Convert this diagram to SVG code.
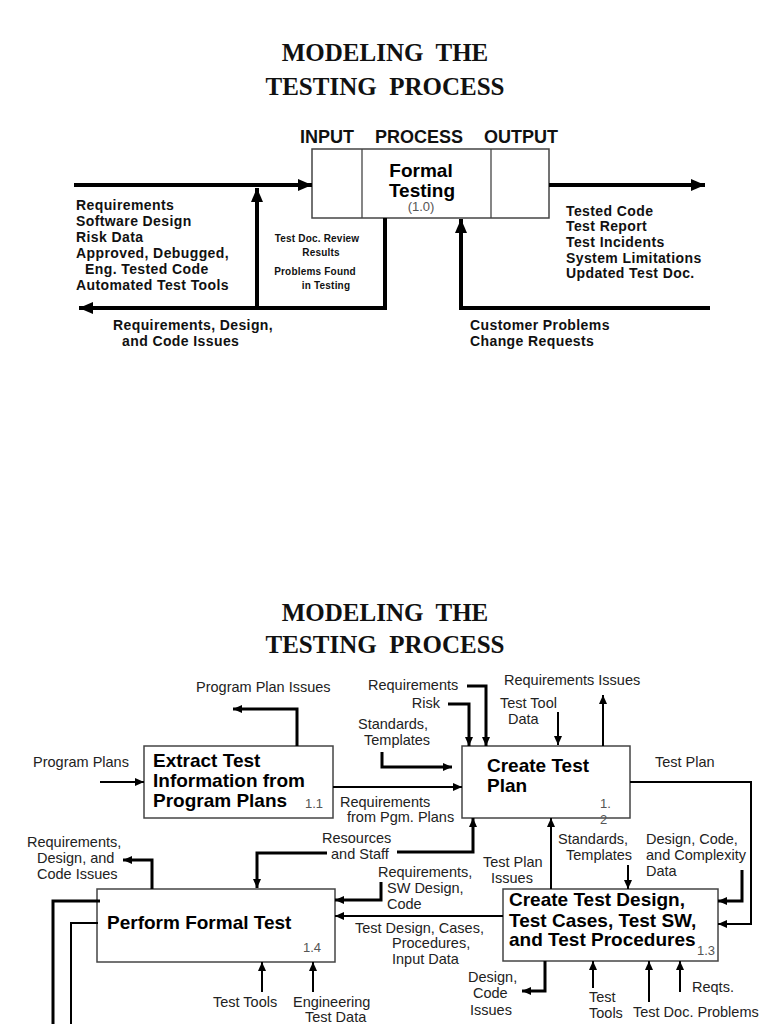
<svg xmlns="http://www.w3.org/2000/svg" width="768" height="1024" viewBox="0 0 768 1024">
<style>
.title{font-family:"Liberation Serif","Times New Roman",serif;font-weight:bold;font-size:25px;fill:#111;text-anchor:middle;white-space:pre}
.hdr{font-family:"Liberation Sans",Arial,sans-serif;font-weight:bold;font-size:18px;fill:#111}
.bl{font-family:"Liberation Sans",Arial,sans-serif;font-weight:bold;font-size:14px;letter-spacing:0.4px;fill:#111}
.sm{font-family:"Liberation Sans",Arial,sans-serif;font-weight:bold;font-size:10px;letter-spacing:0.2px;fill:#111}
.nm{font-family:"Liberation Sans",Arial,sans-serif;font-weight:bold;font-size:19px;fill:#000}
.lb{font-family:"Liberation Sans",Arial,sans-serif;font-size:14.5px;fill:#222}
.num{font-family:"Liberation Sans",Arial,sans-serif;font-size:13px;fill:#555}
.box{fill:#fff;stroke:#444;stroke-width:1.5}
.thk{fill:none;stroke:#000;stroke-width:4;stroke-linejoin:miter}
.ln{fill:none;stroke:#000;stroke-width:2}
.ln3{fill:none;stroke:#000;stroke-width:3}
</style>
<defs>
<marker id="big" markerUnits="userSpaceOnUse" markerWidth="14" markerHeight="12" refX="14" refY="6" orient="auto"><path d="M0,0 L14,6 L0,12 z" fill="#000"/></marker>
<marker id="sa" markerUnits="userSpaceOnUse" markerWidth="9" markerHeight="8" refX="9" refY="4" orient="auto"><path d="M0,0 L9,4 L0,8 z" fill="#000"/></marker>
</defs>
<rect width="768" height="1024" fill="#fff"/>

<!-- Top slide -->
<text class="title" x="385" y="61" xml:space="preserve">MODELING  THE</text>
<text class="title" x="385" y="95" xml:space="preserve">TESTING  PROCESS</text>
<text class="hdr" x="300" y="143">INPUT</text>
<text class="hdr" x="375" y="143">PROCESS</text>
<text class="hdr" x="484" y="143">OUTPUT</text>

<g id="formal-testing">
<rect class="box" x="312" y="149" width="237" height="69"/>
<line x1="362" y1="149" x2="362" y2="218" stroke="#444" stroke-width="1.3"/>
<line x1="491" y1="149" x2="491" y2="218" stroke="#444" stroke-width="1.3"/>
<text class="nm" x="421" y="177" text-anchor="middle">Formal</text>
<text class="nm" x="422" y="197" text-anchor="middle">Testing</text>
<text class="num" x="421" y="211" text-anchor="middle">(1.0)</text>
</g>

<g id="top-connectors">
<path class="thk" d="M74,185 H312" marker-end="url(#big)"/>
<path class="thk" d="M257,308 V188" marker-end="url(#big)"/>
<path class="thk" d="M385,218 V308 H79" marker-end="url(#big)"/>
<path class="thk" d="M549,185 H705" marker-end="url(#big)"/>
<path class="thk" d="M710,308 H461 V219" marker-end="url(#big)"/>
</g>

<g id="top-labels">
<text class="bl" x="76" y="210">Requirements</text>
<text class="bl" x="76" y="226">Software Design</text>
<text class="bl" x="76" y="242">Risk Data</text>
<text class="bl" x="76" y="258">Approved, Debugged,</text>
<text class="bl" x="85" y="274">Eng. Tested Code</text>
<text class="bl" x="76" y="290">Automated Test Tools</text>
<text class="sm" x="317" y="242" text-anchor="middle">Test Doc. Review</text>
<text class="sm" x="321" y="256" text-anchor="middle">Results</text>
<text class="sm" x="315" y="275" text-anchor="middle">Problems Found</text>
<text class="sm" x="326" y="289" text-anchor="middle">in Testing</text>
<text class="bl" x="113" y="330">Requirements, Design,</text>
<text class="bl" x="122" y="346">and Code Issues</text>
<text class="bl" x="566" y="216">Tested Code</text>
<text class="bl" x="566" y="231">Test Report</text>
<text class="bl" x="566" y="247">Test Incidents</text>
<text class="bl" x="566" y="263">System Limitations</text>
<text class="bl" x="566" y="278">Updated Test Doc.</text>
<text class="bl" x="470" y="330">Customer Problems</text>
<text class="bl" x="470" y="346">Change Requests</text>
</g>

<!-- Bottom slide -->
<text class="title" x="385" y="621" xml:space="preserve">MODELING  THE</text>
<text class="title" x="385" y="653" xml:space="preserve">TESTING  PROCESS</text>

<g id="n11">
<rect class="box" x="144" y="746" width="189" height="72"/>
<text class="nm" x="153" y="767">Extract Test</text>
<text class="nm" x="153" y="787">Information from</text>
<text class="nm" x="153" y="807">Program Plans</text>
<text class="num" x="305" y="808">1.1</text>
</g>
<g id="n12">
<rect class="box" x="462" y="746" width="168" height="72"/>
<text class="nm" x="487" y="772">Create Test</text>
<text class="nm" x="487" y="792">Plan</text>
<text class="num" x="600" y="808">1.</text>
<text class="num" x="600" y="824">2</text>
</g>
<g id="n14">
<rect class="box" x="97" y="889" width="238" height="73"/>
<text class="nm" x="107" y="929">Perform Formal Test</text>
<text class="num" x="303" y="952">1.4</text>
</g>
<g id="n13">
<rect class="box" x="503" y="889" width="215" height="72"/>
<text class="nm" x="509" y="906">Create Test Design,</text>
<text class="nm" x="509" y="927">Test Cases, Test SW,</text>
<text class="nm" x="509" y="946">and Test Procedures</text>
<text class="num" x="697" y="955">1.3</text>
</g>

<g id="connectors">
<path class="ln" d="M100,782 H144" marker-end="url(#sa)"/>
<path class="ln3" d="M297,746 V709 H233" marker-end="url(#sa)"/>
<path class="ln" d="M333,787 H462" marker-end="url(#sa)"/>
<path class="ln3" d="M467,686 H486 V746" marker-end="url(#sa)"/>
<path class="ln3" d="M448,704 H469 V746" marker-end="url(#sa)"/>
<path class="ln3" d="M382,752 V767 H452" marker-end="url(#sa)"/>
<path class="ln" d="M558,712 V745" marker-end="url(#sa)"/>
<path class="ln" d="M603,746 V695" marker-end="url(#sa)"/>
<path class="ln" d="M630,782 H751 V924 H718" marker-end="url(#sa)"/>
<path class="ln3" d="M742,870 V901 H718" marker-end="url(#sa)"/>
<path class="ln" d="M628,865 V889" marker-end="url(#sa)"/>
<path class="ln" d="M551,889 V818" marker-end="url(#sa)"/>
<path class="ln3" d="M397,852 H473 V818" marker-end="url(#sa)"/>
<path class="ln3" d="M327,853 H257 V888" marker-end="url(#sa)"/>
<path class="ln3" d="M381,882 V900 H335" marker-end="url(#sa)"/>
<path class="ln" d="M503,916 H335" marker-end="url(#sa)"/>
<path class="ln3" d="M545,961 V991 H522" marker-end="url(#sa)"/>
<path class="ln" d="M593,988 V961" marker-end="url(#sa)"/>
<path class="ln" d="M649,1002 V961" marker-end="url(#sa)"/>
<path class="ln" d="M680,992 V961" marker-end="url(#sa)"/>
<path class="ln3" d="M152,889 V860 H123" marker-end="url(#sa)"/>
<path class="ln" d="M262,992 V962" marker-end="url(#sa)"/>
<path class="ln" d="M313,992 V962" marker-end="url(#sa)"/>
<path class="ln3" d="M100,901 H53 V1024"/>
<path class="ln" d="M98,923 H71 V1024"/>
</g>

<g id="labels">
<text class="lb" x="33" y="767">Program Plans</text>
<text class="lb" x="196" y="692">Program Plan Issues</text>
<text class="lb" x="340" y="807">Requirements</text>
<text class="lb" x="347" y="822">from Pgm. Plans</text>
<text class="lb" x="368" y="690">Requirements</text>
<text class="lb" x="440" y="708" text-anchor="end">Risk</text>
<text class="lb" x="358" y="729">Standards,</text>
<text class="lb" x="364" y="745">Templates</text>
<text class="lb" x="500" y="708">Test Tool</text>
<text class="lb" x="508" y="724">Data</text>
<text class="lb" x="504" y="685">Requirements Issues</text>
<text class="lb" x="655" y="767">Test Plan</text>
<text class="lb" x="646" y="844">Design, Code,</text>
<text class="lb" x="646" y="860">and Complexity</text>
<text class="lb" x="646" y="876">Data</text>
<text class="lb" x="558" y="844">Standards,</text>
<text class="lb" x="566" y="860">Templates</text>
<text class="lb" x="483" y="867">Test Plan</text>
<text class="lb" x="491" y="883">Issues</text>
<text class="lb" x="322" y="843">Resources</text>
<text class="lb" x="331" y="859">and Staff</text>
<text class="lb" x="378" y="877">Requirements,</text>
<text class="lb" x="387" y="893">SW Design,</text>
<text class="lb" x="387" y="909">Code</text>
<text class="lb" x="355" y="933">Test Design, Cases,</text>
<text class="lb" x="392" y="948">Procedures,</text>
<text class="lb" x="392" y="964">Input Data</text>
<text class="lb" x="468" y="982">Design,</text>
<text class="lb" x="473" y="998">Code</text>
<text class="lb" x="470" y="1015">Issues</text>
<text class="lb" x="589" y="1002">Test</text>
<text class="lb" x="589" y="1018">Tools</text>
<text class="lb" x="633" y="1017">Test Doc. Problems</text>
<text class="lb" x="692" y="992">Reqts.</text>
<text class="lb" x="27" y="847">Requirements,</text>
<text class="lb" x="37" y="863">Design, and</text>
<text class="lb" x="37" y="879">Code Issues</text>
<text class="lb" x="213" y="1007">Test Tools</text>
<text class="lb" x="293" y="1007">Engineering</text>
<text class="lb" x="305" y="1022">Test Data</text>
</g>
</svg>
